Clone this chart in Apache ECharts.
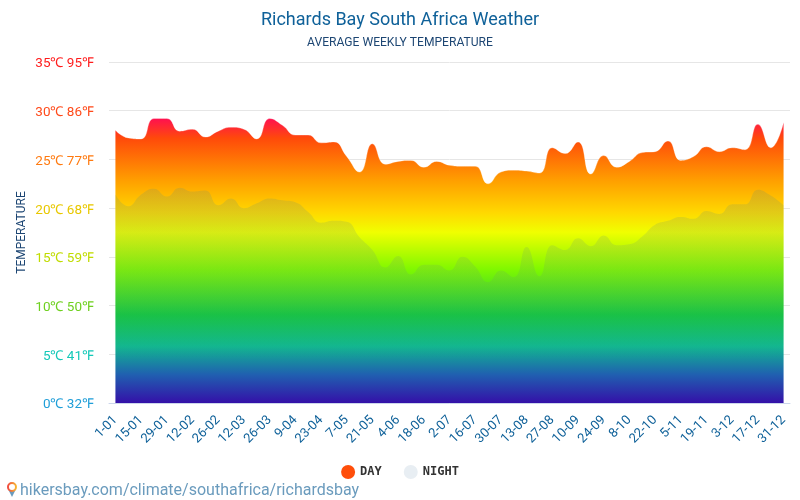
<!DOCTYPE html>
<html><head><meta charset="utf-8"><style>html,body{margin:0;background:#fff}#c{width:800px;height:500px}</style>
<script src="https://cdn.jsdelivr.net/npm/echarts@6/dist/echarts.min.js"></script></head><body><div id="c"></div>
<script>
const categories=['1-01','8-01','15-01','22-01','29-01','5-02','12-02','19-02','26-02','5-03','12-03','19-03','26-03','2-04','9-04','16-04','23-04','30-04','7-05','14-05','21-05','28-05','4-06','11-06','18-06','25-06','2-07','9-07','16-07','23-07','30-07','6-08','13-08','20-08','27-08','3-09','10-09','17-09','24-09','1-10','8-10','15-10','22-10','29-10','5-11','12-11','19-11','26-11','3-12','10-12','17-12','24-12','31-12'];
const dayValues=[28.0,27.2,27.1,29.2,29.2,27.9,28.1,27.3,27.9,28.3,28.1,27.1,29.2,28.5,27.5,27.5,26.7,26.8,25.3,23.7,26.6,24.5,24.8,24.9,24.2,24.8,24.4,24.3,24.3,22.5,23.7,23.9,23.8,23.6,26.2,25.6,26.8,23.5,25.4,24.2,24.8,25.7,25.8,26.9,24.9,25.3,26.3,25.8,26.2,26.0,28.6,26.2,28.8];
const nightValues=[21.4,20.2,21.4,22.0,21.2,22.1,21.7,21.8,20.3,21.0,20.0,20.5,21.0,20.8,20.6,19.6,18.5,18.7,18.6,17.0,15.7,13.9,15.1,13.2,14.2,14.2,13.6,15.0,14.0,12.4,13.6,12.9,16.0,13.0,16.2,15.7,16.9,16.1,17.2,16.2,16.3,17.1,18.3,18.7,19.1,18.9,19.7,19.4,20.4,20.4,21.9,21.3,20.3];
const tempTicks=['0℃ 32℉','5℃ 41℉','10℃ 50℉','15℃ 59℉','20℃ 68℉','25℃ 77℉','30℃ 86℉','35℃ 95℉'];
const tickColors=['#1f9ed8','#14c8b8','#6fd020','#c0dc00','#e8c800','#ff7a10','#ff4a1a','#ff1c1c'];
const titleText='Richards Bay South Africa Weather',subtitleText='AVERAGE WEEKLY TEMPERATURE',yAxisName='TEMPERATURE',footerText='hikersbay.com/climate/southafrica/richardsbay';
const stops=[[0,'#ff1050'],[0.07,'#ff4a0a'],[0.22,'#ffa000'],[0.33,'#ffd800'],[0.40,'#f0ff00'],[0.53,'#80f800'],[0.69,'#10c840'],[0.80,'#10b890'],[0.9,'#2060b0'],[1,'#3410a8']];
const grad={type:'linear',x:0,y:0,x2:0,y2:1,colorStops:stops.map(s=>({offset:s[0],color:s[1]}))};
const nightGrad={type:'linear',x:0,y:0,x2:0,y2:1,colorStops:[{offset:0,color:'rgba(100,144,120,0.2)'},{offset:0.55,color:'rgba(100,144,120,0.14)'},{offset:0.8,color:'rgba(100,144,120,0)'},{offset:1,color:'rgba(100,144,120,0)'}]};
const chart=echarts.init(document.getElementById('c'));
chart.setOption({animation:false,
title:{text:titleText,subtext:subtitleText,left:'center',top:6,textStyle:{fontFamily:'Roboto',fontSize:18,fontWeight:'normal',color:'#0f6199'},subtextStyle:{fontFamily:'Roboto',fontSize:12.1,color:'#1d4673'},itemGap:8},
legend:{bottom:16,left:'center',icon:'circle',itemWidth:14,itemHeight:14,itemGap:22,textStyle:{fontFamily:'DejaVu Sans Mono',fontWeight:'bold',fontSize:12,color:'#333'},data:[{name:'DAY',itemStyle:{color:'#ff4e0a'}},{name:'NIGHT',itemStyle:{color:'#e8eef3'}}]},
grid:{left:109,right:10,top:62,bottom:97},
xAxis:{type:'category',data:categories,boundaryGap:true,axisTick:{alignWithLabel:true,interval:1,length:10,lineStyle:{color:'#ccd6eb'}},axisLine:{lineStyle:{color:'#ccd6eb'}},axisLabel:{interval:1,rotate:45,fontFamily:'Roboto',fontSize:13,color:'#0f6199',margin:15},splitLine:{show:false}},
yAxis:{type:'value',min:0,max:35,interval:5,name:yAxisName,nameLocation:'middle',nameGap:81,nameMoveOverlap:false,nameTextStyle:{fontFamily:'Roboto',fontSize:12,color:'#1d4673'},axisLine:{show:false},axisTick:{show:false},splitLine:{lineStyle:{color:'#e6e6e6'}},axisLabel:{margin:15,verticalAlign:'top',padding:[-5,0,0,0],fontFamily:'Roboto',fontSize:13.5,color:(v,i)=>tickColors[Math.round(v/5)],formatter:(v)=>tempTicks[Math.round(v/5)]}},
series:[
{name:'DAY',type:'line',data:dayValues,smooth:0.5,symbol:'none',lineStyle:{width:1,color:'rgba(255,255,255,0.3)'},areaStyle:{color:grad,opacity:1},itemStyle:{color:'#ff4e0a'},z:1},
{name:'NIGHT',type:'line',data:nightValues,smooth:0.5,symbol:'none',lineStyle:{width:0},areaStyle:{color:nightGrad,opacity:1},itemStyle:{color:'#e8eef3'},z:2}
],
graphic:[
{type:'text',left:20,top:483,style:{text:footerText,fontFamily:'Roboto',fontSize:16,fill:'#6a9bbd'}},
{type:'polygon',shape:{points:[[8.5,490],[15.5,490],[12,497]]},style:{fill:'#6a9bbd'}},
{type:'circle',shape:{cx:12,cy:487,r:4},style:{fill:'#fff',stroke:{type:'linear',x:0,y:0,x2:1,y2:0,colorStops:[{offset:0,color:'#f04040'},{offset:1,color:'#f8c030'}]},lineWidth:2}}
]});
</script></body></html>
